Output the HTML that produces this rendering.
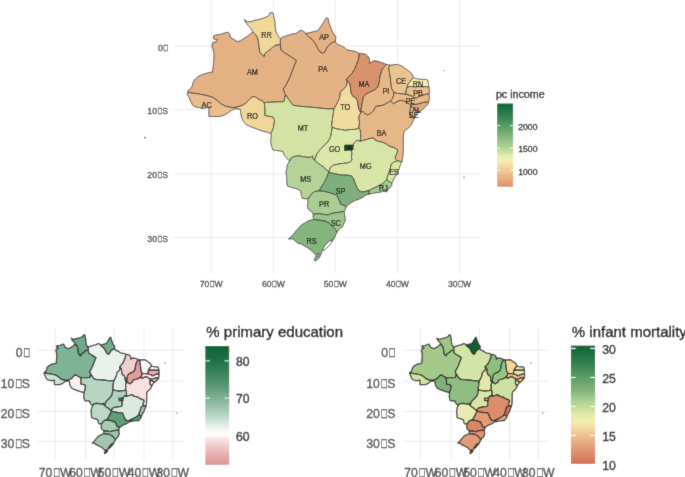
<!DOCTYPE html>
<html><head><meta charset="utf-8"><title>Brazil maps</title>
<style>html,body{margin:0;padding:0;background:#fff;width:685px;height:477px;overflow:hidden}svg{display:block}</style>
</head><body>
<svg width="685" height="477" viewBox="0 0 685 477">
<defs><filter id="soft" x="0" y="0" width="1" height="1"><feConvolveMatrix order="3" kernelMatrix="0.0114 0.084 0.0114 0.084 0.618 0.084 0.0114 0.084 0.0114" edgeMode="duplicate" preserveAlpha="true"/></filter></defs>
<g filter="url(#soft)">
<rect x="-10" y="-10" width="705" height="497" fill="#fff"/>
<g stroke="#ebebeb" stroke-width="1.0"><line x1="173.3" y1="46.2" x2="480.5" y2="46.2"/><line x1="173.3" y1="109.8" x2="480.5" y2="109.8"/><line x1="173.3" y1="174" x2="480.5" y2="174"/><line x1="173.3" y1="237.3" x2="480.5" y2="237.3"/><line x1="211.2" y1="0" x2="211.2" y2="273.4"/><line x1="273.4" y1="0" x2="273.4" y2="273.4"/><line x1="335.3" y1="0" x2="335.3" y2="273.4"/><line x1="397.4" y1="0" x2="397.4" y2="273.4"/><line x1="459.5" y1="0" x2="459.5" y2="273.4"/></g>
<g stroke="#333333" stroke-width="0.8" stroke-linejoin="round"><path d="M187.6 92.3L188.4 90.1L190.6 88.6L192 86.4L192.8 83.5L194 80.4L197.9 76.7L202.6 74.4L208.5 72.6L212.6 72L213.2 66.1L213.8 60.3L214.1 54.4L213.2 49.7L212 46.2L212.6 42.6L216.7 41.5L217.3 39.7L213.8 39.1L213.2 36.2L215.6 35L220.3 34.4L223.8 33.2L227.9 32.1L229.7 34.4L230.8 37.9L234.4 39.7L237.3 41.5L240.2 40.9L243.8 38.5L247.3 36.2L250.2 33.8L253.2 32.1L255.4 34.2L257.6 37.9L258.4 41.6L259.1 46.7L259.8 51.9L261.3 54.1L264.2 56.3L265 53.3L267.9 51.1L270.8 48.9L275.2 45.2L280.4 44.5L281.1 49.6L283.3 51.9L287 54.1L291.4 57L295.8 59.9L296.5 60.7L294.3 65.8L292.5 70.5L289.9 77.3L286.3 84.7L283.3 89.1L284.8 93.5L285.5 94.5L284.1 101.6L276.7 102L269.4 102.3L264.2 102.6L262 100.8L259 99.5L256.6 98L254.5 96.5L251.7 97.2L249.3 99.5L245.6 103.5L242 105.5L237.5 107L234 107.6L230.2 107.3L225.8 106.3L221.4 104.1L217 100.4L212.6 97.4L206.7 95.5L199.4 94.1L192 93L187.6 92.3Z" fill="#e4b184"/><path d="M253.2 32.1L250.3 27.6L247.3 24.7L244.1 19.5L247.3 21.7L251 21.7L254.7 20.3L259.1 19.5L263.5 18.1L268.6 15.9L270.1 12.6L273 12.9L273.8 16.6L275 21.7L275.2 26.2L276 32L277.9 35.7L280.4 38.6L280.4 44.5L275.2 45.2L270.8 48.9L267.9 51.1L265 53.3L264.2 56.3L261.3 54.1L259.8 51.9L259.1 46.7L258.4 41.6L257.6 37.9L255.4 34.2L253.2 32.1Z" fill="#f2d79b"/><path d="M305.3 33.5L309 32.8L313.4 31.7L317.8 30.6L320 27.6L323 23.2L325.2 19.5L326.9 17.3L328.1 18.8L328.8 22.5L330.3 26.2L331.8 30.6L334 34.2L335.9 36.8L335.4 41.2L331.8 43L328.8 45.2L326.6 48.2L324.4 52.6L322.2 53.3L320 51.9L317.8 48.9L314.9 43L312 39.4L309 37.2L305.3 33.5Z" fill="#e4b184"/><path d="M280.4 38.6L282.6 37.2L287 35.7L291.4 34.2L295.8 33.5L298.7 32L299.5 30.6L302.4 30.6L304.6 32L305.3 33.5L309 37.2L312 39.4L314.9 43L317.8 48.9L320 51.9L322.2 53.3L324.4 52.6L326.6 48.2L328.8 45.2L331.8 43L335.4 41.2L336.6 44L340.3 45.4L344.7 47.6L346.9 49.8L350.6 50.6L355 51.3L359.4 53.5L358.4 59.7L356.6 64.3L354.8 68.8L352 73.3L348.6 77L346.3 79.5L347.3 82L346.8 85L345.2 87.6L342.3 90L340.5 92.3L340 95.3L339.4 98.8L337.6 102.3L335.8 105.8L334 108.8L328.1 108.9L320.8 108.2L313.4 107.4L306.1 106.8L298.7 106.2L292.9 105.2L288.5 99.4L285.5 94.5L284.8 93.5L283.3 89.1L286.3 84.7L289.9 77.3L292.5 70.5L294.3 65.8L296.5 60.7L295.8 59.9L291.4 57L287 54.1L283.3 51.9L281.1 49.6L280.4 44.5L280.4 38.6Z" fill="#e4b385"/><path d="M235 108.6L233.5 109.5L230.9 110.7L228 112.9L224.3 115.1L219.9 116.5L214.1 116.5L208.9 116.5L208.9 111.4L208.9 107.3L206.7 107.7L202.3 108.5L199.4 107.7L195.7 107L192.8 105.5L190.6 101.1L189.1 97.4L187.3 94.5L187.6 92.3L192 93L199.4 94.1L206.7 95.5L212.6 97.4L217 100.4L221.4 104.1L225.8 106.3L230.2 107.3L234 107.6L235 108.6Z" fill="#e9bd8d"/><path d="M270.8 133.5L267.6 132.3L261.7 130.9L255.9 128.7L250.3 126.5L245.9 124.3L242.9 120.7L241.5 117L240.7 112.6L240.5 109.5L235 108.6L234 107.6L237.5 107L242 105.5L245.6 103.5L249.3 99.5L251.7 97.2L254.5 96.5L256.6 98L259 99.5L262 100.8L264.2 102.6L265 108.2L265 115.5L269.4 116.3L273 117L274.5 119.9L274 124.3L273.3 128.3L271.8 131.8L270.8 133.5Z" fill="#f0d699"/><path d="M285.5 94.5L284.1 101.6L276.7 102L269.4 102.3L264.2 102.6L265 108.2L265 115.5L269.4 116.3L273 117L274.5 119.9L274 124.3L273.3 128.3L271.8 131.8L270.8 133.5L271.3 136.7L270.6 141.2L271.3 145.6L272.8 150L277.9 150.7L283 151.4L283.8 154.4L285.2 156.6L288.2 159.5L289.6 161L291.1 158L294.1 156.6L298.5 155.8L302.9 156.6L307.3 157.3L310.9 157.3L312.4 155.8L313.1 158.8L314.6 160.2L316.1 155.8L317.5 152.9L320.5 149.2L324.2 145.6L327.8 141.9L330 138.2L330.9 135.5L331.6 131.1L332.3 127.4L331.6 126L332.3 120.8L333.1 115L334 108.8L328.1 108.9L320.8 108.2L313.4 107.4L306.1 106.8L298.7 106.2L292.9 105.2L288.5 99.4L285.5 94.5Z" fill="#d4e3a3"/><path d="M346.3 79.5L348.5 81.5L349.9 83.5L350.5 88.2L351.1 92.9L352.9 96.4L355.8 97.6L357.6 101.1L358.2 105.8L358.8 109.4L361 112.8L359.5 115L358.8 117.9L359.5 122.3L358.8 128.2L357.3 128.9L354.4 129.4L350 129.6L345.6 130.4L341.2 129.6L336.7 128.9L332.3 127.4L331.6 126L332.3 120.8L333.1 115L334 108.8L335.8 105.8L337.6 102.3L339.4 98.8L340 95.3L340.5 92.3L342.3 90L345.2 87.6L346.8 85L347.3 82L346.3 79.5Z" fill="#f1dc9f"/><path d="M359.4 53.5L361.6 53.5L365.2 54.2L368.2 56.4L369.6 59.4L369.6 63.8L371.9 61.6L374.1 60.8L377 61.1L380.7 62.3L384.3 63.5L386.5 64.5L384.3 66.7L382.1 69.6L380.7 74.1L379.9 77L379.3 82L378 87L374.5 90L370 92L365.2 94.5L363.2 97.6L362.2 103.5L361.1 109.4L361 112.8L358.8 109.4L358.2 105.8L357.6 101.1L355.8 97.6L352.9 96.4L351.1 92.9L350.5 88.2L349.9 83.5L348.5 81.5L346.3 79.5L348.6 77L352 73.3L354.8 68.8L356.6 64.3L358.4 59.7L359.4 53.5Z" fill="#d9926e"/><path d="M386.5 64.5L388.7 64.8L390.2 65.2L388.7 68.2L389.5 72.6L390.2 77L390.9 82.9L391.7 88.7L394.1 92.3L393.5 96L392.5 98.5L390.5 101L387 103L383.6 105L380 105.8L376.5 106.4L375 107.5L374 110.5L371.8 112.3L369.6 114L367.3 115L364.6 113.5L362.4 111L361 112.8L361.1 109.4L362.2 103.5L363.2 97.6L365.2 94.5L370 92L374.5 90L378 87L379.3 82L379.9 77L380.7 74.1L382.1 69.6L384.3 66.7L386.5 64.5Z" fill="#e6b888"/><path d="M390.2 65.2L393.1 64.8L397.5 64.5L402 66L404.9 68.2L408.2 70.5L411.7 73.5L413.5 77.6L410.5 81.2L408.2 84.1L407.2 86.9L406.3 90.2L405.9 92.8L406.3 94.4L402.3 94.1L400 93.5L397.6 93.5L395.3 92.9L394.1 92.3L391.7 88.7L390.9 82.9L390.2 77L389.5 72.6L388.7 68.2L390.2 65.2Z" fill="#ebc391"/><path d="M413.5 77.6L415.2 78.2L417.7 78.9L421.9 79.4L426 79.4L427.7 80.2L428.6 84.4L429 87.7L425.8 86.5L422.3 87L418.8 86.5L415.2 87L411.7 86.5L407.2 86.9L408.2 84.1L410.5 81.2L413.5 77.6Z" fill="#f4eeb1"/><path d="M429 87.7L429.4 90.2L429.4 92.8L429 94L426.9 94L424.4 94.9L421.9 95.7L419.3 96.5L416.8 97.8L415.1 98.2L413.9 97.4L412.6 96.5L411 95.7L409.3 95.3L406.3 94.4L405.9 92.8L406.3 90.2L407.2 86.9L411.7 86.5L415.2 87L418.8 86.5L422.3 87L425.8 86.5L429 87.7Z" fill="#ebc18f"/><path d="M429 94L429.4 97.8L429 100.3L428.6 102.4L427.3 102L423.5 102.4L419.3 103.7L416 104.5L412.6 104.9L410.5 104.9L409.3 104.1L406.8 102.8L404.2 101.1L401.7 100.3L399.2 100.7L396.7 102L393.4 103.7L390.5 101L392.5 98.5L393.5 96L394.1 92.3L395.3 92.9L397.6 93.5L400 93.5L402.3 94.1L406.3 94.4L409.3 95.3L411 95.7L412.6 96.5L413.9 97.4L415.1 98.2L416.8 97.8L419.3 96.5L421.9 95.7L424.4 94.9L426.9 94L429 94Z" fill="#e9bb8a"/><path d="M428.6 102.4L427.7 104.5L425.2 107L422.7 109.5L421 111.2L419.3 112L416.8 110.4L414.3 108.7L412.2 107.4L410.5 106.2L410.5 104.9L412.6 104.9L416 104.5L419.3 103.7L423.5 102.4L427.3 102L428.6 102.4Z" fill="#e3aa7f"/><path d="M419.3 112L417.7 113.4L416 115.9L414.5 118.2L412.5 118L410.5 116L409.7 112.9L410.1 109.5L410.5 106.2L412.2 107.4L414.3 108.7L416.8 110.4L419.3 112Z" fill="#ebbf8d"/><path d="M414.5 118.2L413.5 120.1L412.6 122.6L411 125.1L408.9 127.7L406.8 129.3L405.1 130.6L403.8 132.5L403.3 138.2L403.3 145L403.3 150.6L402.8 156.7L401.8 161.9L399.7 161.3L397.2 160.8L395.6 159.3L395.1 156.7L396.7 153.6L397.7 150L394.6 148L391.5 146.9L388.4 145.9L386.4 143.9L382.3 142.3L378.2 141.3L375.1 140.3L374.1 138.2L371 138.2L367.9 139.2L363.8 140.3L360.2 141.3L360.7 136.2L360.2 130L358.8 128.2L359.5 122.3L358.8 117.9L359.5 115L361 112.8L362.4 111L364.6 113.5L367.3 115L369.6 114L371.8 112.3L374 110.5L375 107.5L376.5 106.4L380 105.8L383.6 105L387 103L390.5 101L393.4 103.7L396.7 102L399.2 100.7L401.7 100.3L404.2 101.1L406.8 102.8L409.3 104.1L410.5 104.9L410.5 106.2L410.1 109.5L409.7 112.9L410.5 116L412.5 118L414.5 118.2Z" fill="#e6b787"/><path d="M358.8 128.2L357.3 128.9L354.4 129.4L350 129.6L345.6 130.4L341.2 129.6L336.7 128.9L332.3 127.4L331.6 131.1L330.9 135.5L330 138.2L327.8 141.9L324.2 145.6L320.5 149.2L317.5 152.9L316.1 155.8L314.6 160.2L319 163.9L323.4 166.9L328.7 172L329.4 170L330.9 167L333.8 164.8L335 164.9L339.1 163.9L343.2 163.4L347.3 162.9L350.4 161.9L352 159.8L351.4 156.7L352 153.6L351.4 150.6L352.5 149L353 146.4L353.5 143.9L355 142.3L356.6 140.3L360.2 141.3L360.7 136.2L360.2 130L358.8 128.2Z" fill="#dce7aa"/><path d="M360.2 141.3L363.8 140.3L367.9 139.2L371 138.2L374.1 138.2L375.1 140.3L378.2 141.3L382.3 142.3L386.4 143.9L388.4 145.9L391.5 146.9L394.6 148L397.7 150L396.7 153.6L395.1 156.7L395.6 159.3L397.2 160.8L394.6 161.9L392.6 162.9L391 164.9L390.5 168L389.5 171.1L387.9 175.2L386.9 178.3L386.7 179.5L385.2 181L382.3 183.9L377.9 186.1L373.5 188.3L369.1 190.5L366.1 191.3L361.7 192L358.8 190.5L356.6 186.9L355.1 183.2L353.6 178.8L351.4 175.8L347 175.1L342.6 175.1L338.2 174.4L333.8 173.6L328.7 172L329.4 170L330.9 167L333.8 164.8L335 164.9L339.1 163.9L343.2 163.4L347.3 162.9L350.4 161.9L352 159.8L351.4 156.7L352 153.6L351.4 150.6L352.5 149L353 146.4L353.5 143.9L355 142.3L356.6 140.3L360.2 141.3Z" fill="#d9e5a6"/><path d="M397.2 160.8L399.7 161.3L401.8 161.9L400.5 164.5L399.2 168.5L397.7 172.9L395.5 175.8L393.3 180.2L391.8 183.2L389.6 181.7L386.7 179.5L386.9 178.3L387.9 175.2L389.5 171.1L390.5 168L391 164.9L392.6 162.9L394.6 161.9L397.2 160.8Z" fill="#d9e6a6"/><path d="M386.7 179.5L389.6 181.7L391.8 183.2L391.8 185.4L390.3 187.6L388.1 189.1L386.7 192L383.7 191.3L380.8 192L376.4 192.7L372 193.5L369.1 194.2L369.1 190.5L373.5 188.3L377.9 186.1L382.3 183.9L385.2 181L386.7 179.5Z" fill="#a5cb8f"/><path d="M328.7 172L333.8 173.6L338.2 174.4L342.6 175.1L347 175.1L351.4 175.8L353.6 178.8L355.1 183.2L356.6 186.9L358.8 190.5L361.7 192L366.1 191.3L369.1 190.5L369.1 194.2L366.1 194.9L363.2 197.1L358.8 199.3L354.4 200.8L350.7 203L347.8 205.2L346.2 206.8L344 205.6L340.3 204.1L339.6 201.2L338.1 198.2L336.7 195.3L330.8 193.1L324.9 191.6L319 190.9L320.5 188.1L323.4 183.7L326.4 177.9L328.7 172Z" fill="#7eaf7c"/><path d="M314.6 160.2L319 163.9L323.4 166.9L328.7 172L326.4 177.9L323.4 183.7L320.5 188.1L319 190.9L314.6 191.6L311.7 193.8L308.8 198.2L307.5 198.5L304.4 198.9L302.2 198.2L301.4 195.3L300.7 191L297 188.9L291.5 187.5L287.4 186L286.7 180.8L286.7 176.4L286 172L286.7 169.1L287.4 164.6L289.6 161L291.1 158L294.1 156.6L298.5 155.8L302.9 156.6L307.3 157.3L310.9 157.3L312.4 155.8L313.1 158.8L314.6 160.2Z" fill="#b5d297"/><path d="M319 190.9L324.9 191.6L330.8 193.1L336.7 195.3L338.1 198.2L339.6 201.2L340.3 204.1L344 205.6L346.2 206.8L345.5 209L344.3 211.4L339.6 212.2L335.2 212.9L330.8 213.6L327.9 215.1L323.5 214.4L319.1 213.6L313.2 214.4L312.4 212.2L308.8 210L307.3 207L308 202.6L307.5 198.5L308.8 198.2L311.7 193.8L314.6 191.6L319 190.9Z" fill="#aacd93"/><path d="M313.2 214.4L319.1 213.6L323.5 214.4L327.9 215.1L330.8 213.6L335.2 212.9L339.6 212.2L344.3 211.4L344.7 215.8L345.5 220.2L344 223.2L342.5 226.9L339.6 229.1L337.2 232L335.2 229.1L332.3 226.1L329.3 223.2L324.9 221L319.1 220.2L313.9 219.5L312.9 217.3L313.2 214.4Z" fill="#9cc58c"/><path d="M313.9 219.5L319.1 220.2L324.9 221L329.3 223.2L332.3 226.1L335.2 229.1L337.2 232L335.7 234.7L334.3 238.2L332.6 240.9L329.9 242.5L327.3 246.1L324.6 248.8L322 251.4L320.7 255L319.4 257.6L317.6 259.4L315.4 261.1L314.1 260.2L315 258L316.3 255.8L314.1 253.2L311.4 250.6L307.9 247.9L304.4 246.1L301.3 243.9L298.2 243.5L294.7 240.4L292 238.7L288.5 239.1L291.2 236.5L293.8 233.8L296.5 230.3L299.1 227.6L301.3 225L304.4 223.2L308 221L310.2 220.2L313.9 219.5Z" fill="#85b47f"/><path d="M345 145L353 145L353 150L345 150Z" fill="#0b5a30"/><path d="M322.3 249.6L325.3 245.2L328.8 241.6L331.9 239.7L331.6 242.4L328.2 246.6L324.4 250.1Z" fill="#ffffff"/><path d="M316.4 255.6L318.3 252.9L318.9 254.2L317.9 256.5Z" fill="#ffffff"/></g>
<g font-family="Liberation Sans, Arial, sans-serif" font-size="7.8" text-anchor="middle" fill="#151515" stroke="#151515" stroke-width="0.22"><text transform="translate(266.5 38.3) scale(0.93 1.08)">RR</text><text transform="translate(324.1 39.5) scale(0.93 1.08)">AP</text><text transform="translate(252.4 74.7) scale(0.93 1.08)">AM</text><text transform="translate(322.9 72.4) scale(0.93 1.08)">PA</text><text transform="translate(364 86.5) scale(0.93 1.08)">MA</text><text transform="translate(401 84.1) scale(0.93 1.08)">CE</text><text transform="translate(418 87.1) scale(0.93 1.08)">RN</text><text transform="translate(418 95.9) scale(0.93 1.08)">PB</text><text transform="translate(385.9 94.1) scale(0.93 1.08)">PI</text><text transform="translate(410.3 103.5) scale(0.93 1.08)">PE</text><text transform="translate(416.5 112.7) scale(0.93 1.08)">AL</text><text transform="translate(413.7 118) scale(0.93 1.08)">SE</text><text transform="translate(206.6 108.2) scale(0.93 1.08)">AC</text><text transform="translate(345.2 110) scale(0.93 1.08)">TO</text><text transform="translate(252.4 119.4) scale(0.93 1.08)">RO</text><text transform="translate(302.9 131.3) scale(0.93 1.08)">MT</text><text transform="translate(381.6 135.8) scale(0.93 1.08)">BA</text><text transform="translate(334.6 152.2) scale(0.93 1.08)">GO</text><text transform="translate(348.7 151.1) scale(0.93 1.08)">DF</text><text transform="translate(365.7 168.5) scale(0.93 1.08)">MG</text><text transform="translate(394 175.1) scale(0.93 1.08)">ES</text><text transform="translate(305.7 181.8) scale(0.93 1.08)">MS</text><text transform="translate(340.6 194.3) scale(0.93 1.08)">SP</text><text transform="translate(383.4 191) scale(0.93 1.08)">RJ</text><text transform="translate(324.1 206.9) scale(0.93 1.08)">PR</text><text transform="translate(335.8 226.2) scale(0.93 1.08)">SC</text><text transform="translate(311.5 244.2) scale(0.93 1.08)">RS</text></g>
<g stroke="#4d4d4d" stroke-width="0.35"><text x="157.89" y="50.5" font-size="8.6" fill="#4d4d4d" font-family="Liberation Sans, Arial, sans-serif">0</text><text transform="translate(163.79 50.5) scale(0.72 1.17)" font-size="8.6" fill="#4d4d4d" font-family="Liberation Sans, Arial, sans-serif">□</text></g>
<g stroke="#4d4d4d" stroke-width="0.35"><text x="147.37" y="114.1" font-size="8.6" fill="#4d4d4d" font-family="Liberation Sans, Arial, sans-serif">10</text><text transform="translate(158.05 114.1) scale(0.72 1.17)" font-size="8.6" fill="#4d4d4d" font-family="Liberation Sans, Arial, sans-serif">□</text><text x="162.26" y="114.1" font-size="8.6" fill="#4d4d4d" font-family="Liberation Sans, Arial, sans-serif">S</text></g>
<g stroke="#4d4d4d" stroke-width="0.35"><text x="147.37" y="178.3" font-size="8.6" fill="#4d4d4d" font-family="Liberation Sans, Arial, sans-serif">20</text><text transform="translate(158.05 178.3) scale(0.72 1.17)" font-size="8.6" fill="#4d4d4d" font-family="Liberation Sans, Arial, sans-serif">□</text><text x="162.26" y="178.3" font-size="8.6" fill="#4d4d4d" font-family="Liberation Sans, Arial, sans-serif">S</text></g>
<g stroke="#4d4d4d" stroke-width="0.35"><text x="147.37" y="241.6" font-size="8.6" fill="#4d4d4d" font-family="Liberation Sans, Arial, sans-serif">30</text><text transform="translate(158.05 241.6) scale(0.72 1.17)" font-size="8.6" fill="#4d4d4d" font-family="Liberation Sans, Arial, sans-serif">□</text><text x="162.26" y="241.6" font-size="8.6" fill="#4d4d4d" font-family="Liberation Sans, Arial, sans-serif">S</text></g>
<g stroke="#4d4d4d" stroke-width="0.35"><text x="199.69" y="286.8" font-size="8.6" fill="#4d4d4d" font-family="Liberation Sans, Arial, sans-serif">70</text><text transform="translate(210.37 286.8) scale(0.72 1.17)" font-size="8.6" fill="#4d4d4d" font-family="Liberation Sans, Arial, sans-serif">□</text><text x="214.59" y="286.8" font-size="8.6" fill="#4d4d4d" font-family="Liberation Sans, Arial, sans-serif">W</text></g>
<g stroke="#4d4d4d" stroke-width="0.35"><text x="261.89" y="286.8" font-size="8.6" fill="#4d4d4d" font-family="Liberation Sans, Arial, sans-serif">60</text><text transform="translate(272.57 286.8) scale(0.72 1.17)" font-size="8.6" fill="#4d4d4d" font-family="Liberation Sans, Arial, sans-serif">□</text><text x="276.79" y="286.8" font-size="8.6" fill="#4d4d4d" font-family="Liberation Sans, Arial, sans-serif">W</text></g>
<g stroke="#4d4d4d" stroke-width="0.35"><text x="323.79" y="286.8" font-size="8.6" fill="#4d4d4d" font-family="Liberation Sans, Arial, sans-serif">50</text><text transform="translate(334.47 286.8) scale(0.72 1.17)" font-size="8.6" fill="#4d4d4d" font-family="Liberation Sans, Arial, sans-serif">□</text><text x="338.69" y="286.8" font-size="8.6" fill="#4d4d4d" font-family="Liberation Sans, Arial, sans-serif">W</text></g>
<g stroke="#4d4d4d" stroke-width="0.35"><text x="385.89" y="286.8" font-size="8.6" fill="#4d4d4d" font-family="Liberation Sans, Arial, sans-serif">40</text><text transform="translate(396.57 286.8) scale(0.72 1.17)" font-size="8.6" fill="#4d4d4d" font-family="Liberation Sans, Arial, sans-serif">□</text><text x="400.79" y="286.8" font-size="8.6" fill="#4d4d4d" font-family="Liberation Sans, Arial, sans-serif">W</text></g>
<g stroke="#4d4d4d" stroke-width="0.35"><text x="447.99" y="286.8" font-size="8.6" fill="#4d4d4d" font-family="Liberation Sans, Arial, sans-serif">30</text><text transform="translate(458.67 286.8) scale(0.72 1.17)" font-size="8.6" fill="#4d4d4d" font-family="Liberation Sans, Arial, sans-serif">□</text><text x="462.89" y="286.8" font-size="8.6" fill="#4d4d4d" font-family="Liberation Sans, Arial, sans-serif">W</text></g>
<text x="495.9" y="98.3" font-size="10.7" fill="#111" stroke="#111" stroke-width="0.3" font-family="Liberation Sans, Arial, sans-serif">pc income</text>
<defs><linearGradient id="g1" x1="0" y1="0" x2="0" y2="1"><stop offset="0" stop-color="#0a6535"/><stop offset="0.265" stop-color="#559b64"/><stop offset="0.4" stop-color="#85b87b"/><stop offset="0.535" stop-color="#b1d594"/><stop offset="0.618" stop-color="#dcebab"/><stop offset="0.678" stop-color="#f2f1b4"/><stop offset="0.738" stop-color="#f5dea2"/><stop offset="0.803" stop-color="#f1cb95"/><stop offset="0.9" stop-color="#e9ad80"/><stop offset="1" stop-color="#df9068"/></linearGradient><linearGradient id="g2" x1="0" y1="0" x2="0" y2="1"><stop offset="0" stop-color="#0a6535"/><stop offset="0.13" stop-color="#1f7346"/><stop offset="0.3" stop-color="#4f8f6a"/><stop offset="0.44" stop-color="#7fb194"/><stop offset="0.58" stop-color="#b6d4c4"/><stop offset="0.69" stop-color="#eef4f1"/><stop offset="0.745" stop-color="#ffffff"/><stop offset="0.79" stop-color="#f6e2e2"/><stop offset="0.875" stop-color="#ecbcbc"/><stop offset="1" stop-color="#db9494"/></linearGradient><linearGradient id="g3" x1="0" y1="0" x2="0" y2="1"><stop offset="0" stop-color="#0a6535"/><stop offset="0.125" stop-color="#2a7b47"/><stop offset="0.265" stop-color="#5d9a66"/><stop offset="0.39" stop-color="#87b67c"/><stop offset="0.46" stop-color="#a9cf8f"/><stop offset="0.515" stop-color="#c0da9c"/><stop offset="0.585" stop-color="#e3eba9"/><stop offset="0.645" stop-color="#f3eeb0"/><stop offset="0.71" stop-color="#f2d59d"/><stop offset="0.76" stop-color="#ecc18f"/><stop offset="0.83" stop-color="#e5a780"/><stop offset="0.917" stop-color="#dc8a6a"/><stop offset="1" stop-color="#d37058"/></linearGradient></defs>
<rect x="497.1" y="103.5" width="16" height="83.3" fill="url(#g1)"/>
<line x1="497.1" y1="125.6" x2="500.3" y2="125.6" stroke="#fff" stroke-width="0.8"/>
<line x1="509.9" y1="125.6" x2="513.1" y2="125.6" stroke="#fff" stroke-width="0.8"/>
<text x="518.3" y="129.7" font-size="8.6" fill="#222" stroke="#222" stroke-width="0.3" font-family="Liberation Sans, Arial, sans-serif">2000</text>
<line x1="497.1" y1="148.1" x2="500.3" y2="148.1" stroke="#fff" stroke-width="0.8"/>
<line x1="509.9" y1="148.1" x2="513.1" y2="148.1" stroke="#fff" stroke-width="0.8"/>
<text x="518.3" y="152.2" font-size="8.6" fill="#222" stroke="#222" stroke-width="0.3" font-family="Liberation Sans, Arial, sans-serif">1500</text>
<line x1="497.1" y1="170.4" x2="500.3" y2="170.4" stroke="#fff" stroke-width="0.8"/>
<line x1="509.9" y1="170.4" x2="513.1" y2="170.4" stroke="#fff" stroke-width="0.8"/>
<text x="518.3" y="174.5" font-size="8.6" fill="#222" stroke="#222" stroke-width="0.3" font-family="Liberation Sans, Arial, sans-serif">1000</text>
<g stroke="#ebebeb" stroke-width="1.0"><line x1="37.4" y1="350.3" x2="183.4" y2="350.3"/><line x1="37.4" y1="381.1" x2="183.4" y2="381.1"/><line x1="37.4" y1="411.5" x2="183.4" y2="411.5"/><line x1="37.4" y1="441.4" x2="183.4" y2="441.4"/><line x1="55.1" y1="328" x2="55.1" y2="459.4"/><line x1="85.5" y1="328" x2="85.5" y2="459.4"/><line x1="114" y1="328" x2="114" y2="459.4"/><line x1="144" y1="328" x2="144" y2="459.4"/><line x1="172.8" y1="328" x2="172.8" y2="459.4"/></g>
<g stroke="#333333" stroke-width="1.25" stroke-linejoin="round"><path d="M44.29 372.98L44.67 371.93L45.72 371.21L46.38 370.16L46.76 368.77L47.33 367.29L49.19 365.52L51.42 364.42L54.22 363.56L56.16 363.28L56.45 360.46L56.73 357.69L56.88 354.87L56.45 352.62L55.88 350.95L56.16 349.23L58.11 348.7L58.4 347.84L56.73 347.56L56.45 346.17L57.59 345.6L59.82 345.31L61.48 344.74L63.43 344.21L64.28 345.31L64.81 346.98L66.52 347.84L67.89 348.7L69.27 348.42L70.98 347.27L72.64 346.17L74.02 345.03L75.44 344.21L76.49 345.22L77.53 346.98L77.91 348.75L78.24 351.19L78.58 353.67L79.29 354.72L80.66 355.78L81.04 354.34L82.42 353.29L83.8 352.24L85.89 350.47L88.36 350.14L88.69 352.57L89.73 353.67L91.49 354.72L93.58 356.11L95.67 357.5L96 357.88L94.96 360.31L94.1 362.56L92.87 365.81L91.16 369.35L89.73 371.45L90.45 373.55L90.78 374.03L90.11 377.42L86.6 377.61L83.13 377.75L80.66 377.9L79.62 377.04L78.2 376.42L77.06 375.7L76.06 374.98L74.73 375.32L73.59 376.42L71.83 378.33L70.12 379.28L67.99 380L66.33 380.29L64.52 380.14L62.43 379.67L60.34 378.61L58.25 376.85L56.16 375.41L53.36 374.51L49.9 373.84L46.38 373.31L44.29 372.98Z" fill="#7fb395"/><path d="M75.44 344.21L74.06 342.06L72.64 340.68L71.12 338.19L72.64 339.24L74.4 339.24L76.15 338.57L78.24 338.19L80.33 337.52L82.75 336.47L83.47 334.9L84.84 335.04L85.22 336.81L85.79 339.24L85.89 341.39L86.27 344.17L87.17 345.93L88.36 347.32L88.36 350.14L85.89 350.47L83.8 352.24L82.42 353.29L81.04 354.34L80.66 355.78L79.29 354.72L78.58 353.67L78.24 351.19L77.91 348.75L77.53 346.98L76.49 345.22L75.44 344.21Z" fill="#6fa987"/><path d="M100.18 344.88L101.94 344.55L104.02 344.02L106.11 343.5L107.16 342.06L108.58 339.96L109.63 338.19L110.43 337.14L111 337.86L111.34 339.63L112.05 341.39L112.76 343.5L113.81 345.22L114.71 346.46L114.47 348.56L112.76 349.42L111.34 350.47L110.29 351.91L109.25 354.01L108.2 354.34L107.16 353.67L106.11 352.24L104.74 349.42L103.36 347.7L101.94 346.65L100.18 344.88Z" fill="#72ab89"/><path d="M88.36 347.32L89.4 346.65L91.49 345.93L93.58 345.22L95.67 344.88L97.05 344.17L97.42 343.5L98.8 343.5L99.85 344.17L100.18 344.88L101.94 346.65L103.36 347.7L104.74 349.42L106.11 352.24L107.16 353.67L108.2 354.34L109.25 354.01L110.29 351.91L111.34 350.47L112.76 349.42L114.47 348.56L115.04 349.9L116.8 350.57L118.89 351.62L119.93 352.67L121.69 353.05L123.78 353.39L125.87 354.44L125.39 357.4L124.54 359.6L123.68 361.75L122.35 363.9L120.74 365.67L119.65 366.86L120.12 368.06L119.88 369.49L119.12 370.73L117.75 371.88L116.89 372.98L116.65 374.41L116.37 376.08L115.51 377.75L114.66 379.43L113.81 380.86L111 380.91L107.54 380.57L104.02 380.19L100.56 379.9L97.05 379.62L94.29 379.14L92.2 376.37L90.78 374.03L90.45 373.55L89.73 371.45L91.16 369.35L92.87 365.81L94.1 362.56L94.96 360.31L96 357.88L95.67 357.5L93.58 356.11L91.49 354.72L89.73 353.67L88.69 352.57L88.36 350.14L88.36 347.32Z" fill="#e8f1eb"/><path d="M66.8 380.76L66.09 381.19L64.85 381.77L63.48 382.82L61.72 383.87L59.63 384.54L56.88 384.54L54.41 384.54L54.41 382.1L54.41 380.14L53.36 380.33L51.27 380.72L49.9 380.33L48.14 380L46.76 379.28L45.72 377.18L45.01 375.41L44.15 374.03L44.29 372.98L46.38 373.31L49.9 373.84L53.36 374.51L56.16 375.41L58.25 376.85L60.34 378.61L62.43 379.67L64.52 380.14L66.33 380.29L66.8 380.76Z" fill="#cfe3d6"/><path d="M83.8 392.66L82.28 392.09L79.48 391.42L76.72 390.37L74.06 389.32L71.98 388.27L70.55 386.55L69.89 384.78L69.51 382.68L69.41 381.19L66.8 380.76L66.33 380.29L67.99 380L70.12 379.28L71.83 378.33L73.59 376.42L74.73 375.32L76.06 374.98L77.06 375.7L78.2 376.42L79.62 377.04L80.66 377.9L81.04 380.57L81.04 384.06L83.13 384.44L84.84 384.78L85.55 386.16L85.32 388.27L84.99 390.18L84.27 391.85L83.8 392.66Z" fill="#f8efef"/><path d="M90.78 374.03L90.11 377.42L86.6 377.61L83.13 377.75L80.66 377.9L81.04 380.57L81.04 384.06L83.13 384.44L84.84 384.78L85.55 386.16L85.32 388.27L84.99 390.18L84.27 391.85L83.8 392.66L84.04 394.19L83.7 396.34L84.04 398.44L84.75 400.55L87.17 400.88L89.59 401.21L89.97 402.65L90.64 403.7L92.06 405.08L92.72 405.8L93.44 404.37L94.86 403.7L96.95 403.32L99.04 403.7L101.13 404.03L102.84 404.03L103.55 403.32L103.88 404.75L104.59 405.42L105.31 403.32L105.97 401.93L107.4 400.16L109.15 398.44L110.86 396.68L111.91 394.91L112.33 393.62L112.67 391.52L113 389.75L112.67 389.08L113 386.59L113.38 383.82L113.81 380.86L111 380.91L107.54 380.57L104.02 380.19L100.56 379.9L97.05 379.62L94.29 379.14L92.2 376.37L90.78 374.03Z" fill="#b7d5c2"/><path d="M119.65 366.86L120.69 367.82L121.35 368.77L121.64 371.02L121.92 373.26L122.78 374.94L124.16 375.51L125.01 377.18L125.3 379.43L125.58 381.15L126.63 382.77L125.91 383.82L125.58 385.21L125.91 387.31L125.58 390.13L124.87 390.46L123.49 390.7L121.4 390.8L119.31 391.18L117.22 390.8L115.09 390.46L113 389.75L112.67 389.08L113 386.59L113.38 383.82L113.81 380.86L114.66 379.43L115.51 377.75L116.37 376.08L116.65 374.41L116.89 372.98L117.75 371.88L119.12 370.73L119.88 369.49L120.12 368.06L119.65 366.86Z" fill="#e3eee7"/><path d="M125.87 354.44L126.91 354.44L128.62 354.77L130.04 355.82L130.71 357.26L130.71 359.36L131.8 358.31L132.84 357.93L134.22 358.07L135.98 358.64L137.69 359.22L138.73 359.69L137.69 360.74L136.64 362.13L135.98 364.28L135.6 365.67L135.31 368.06L134.7 370.44L133.03 371.88L130.9 372.83L128.62 374.03L127.67 375.51L127.19 378.33L126.67 381.15L126.63 382.77L125.58 381.15L125.3 379.43L125.01 377.18L124.16 375.51L122.78 374.94L121.92 373.26L121.64 371.02L121.35 368.77L120.69 367.82L119.65 366.86L120.74 365.67L122.35 363.9L123.68 361.75L124.54 359.6L125.39 357.4L125.87 354.44Z" fill="#f2cfcf"/><path d="M138.73 359.69L139.78 359.84L140.49 360.03L139.78 361.46L140.16 363.56L140.49 365.67L140.82 368.49L141.2 371.26L142.34 372.98L142.06 374.74L141.58 375.94L140.63 377.13L138.97 378.09L137.36 379.04L135.65 379.43L133.98 379.71L133.27 380.24L132.8 381.67L131.75 382.53L130.71 383.34L129.62 383.82L128.33 383.11L127.29 381.91L126.63 382.77L126.67 381.15L127.19 378.33L127.67 375.51L128.62 374.03L130.9 372.83L133.03 371.88L134.7 370.44L135.31 368.06L135.6 365.67L135.98 364.28L136.64 362.13L137.69 360.74L138.73 359.69Z" fill="#e39c9c"/><path d="M140.49 360.03L141.87 359.84L143.96 359.69L146.09 360.41L147.47 361.46L149.04 362.56L150.7 363.99L151.55 365.95L150.13 367.67L149.04 369.06L148.56 370.4L148.13 371.97L147.94 373.22L148.13 373.98L146.23 373.84L145.14 373.55L144 373.55L142.91 373.26L142.34 372.98L141.2 371.26L140.82 368.49L140.49 365.67L140.16 363.56L139.78 361.46L140.49 360.03Z" fill="#f8f8f8"/><path d="M151.55 365.95L152.36 366.24L153.55 366.57L155.54 366.81L157.49 366.81L158.29 367.2L158.72 369.2L158.91 370.78L157.39 370.21L155.73 370.44L154.07 370.21L152.36 370.44L150.7 370.21L148.56 370.4L149.04 369.06L150.13 367.67L151.55 365.95Z" fill="#f7f5f5"/><path d="M158.91 370.78L159.1 371.97L159.1 373.22L158.91 373.79L157.91 373.79L156.73 374.22L155.54 374.6L154.31 374.98L153.12 375.6L152.31 375.8L151.74 375.41L151.12 374.98L150.37 374.6L149.56 374.41L148.13 373.98L147.94 373.22L148.13 371.97L148.56 370.4L150.7 370.21L152.36 370.44L154.07 370.21L155.73 370.44L157.39 370.21L158.91 370.78Z" fill="#e9aaaa"/><path d="M158.91 373.79L159.1 375.6L158.91 376.8L158.72 377.8L158.1 377.61L156.3 377.8L154.31 378.42L152.74 378.81L151.12 379L150.13 379L149.56 378.61L148.37 377.99L147.14 377.18L145.95 376.8L144.76 376.99L143.58 377.61L142.01 378.42L140.63 377.13L141.58 375.94L142.06 374.74L142.34 372.98L142.91 373.26L144 373.55L145.14 373.55L146.23 373.84L148.13 373.98L149.56 374.41L150.37 374.6L151.12 374.98L151.74 375.41L152.31 375.8L153.12 375.6L154.31 374.98L155.54 374.6L156.73 374.22L157.91 373.79L158.91 373.79Z" fill="#f5ecec"/><path d="M158.72 377.8L158.29 378.81L157.11 380L155.92 381.19L155.11 382.01L154.31 382.39L153.12 381.62L151.93 380.81L150.93 380.19L150.13 379.62L150.13 379L151.12 379L152.74 378.81L154.31 378.42L156.3 377.8L158.1 377.61L158.72 377.8Z" fill="#eab0b0"/><path d="M154.31 382.39L153.55 383.06L152.74 384.25L152.03 385.35L151.08 385.26L150.13 384.3L149.75 382.82L149.94 381.19L150.13 379.62L150.93 380.19L151.93 380.81L153.12 381.62L154.31 382.39Z" fill="#f5e8e8"/><path d="M152.03 385.35L151.55 386.26L151.12 387.45L150.37 388.65L149.37 389.89L148.37 390.66L147.56 391.28L146.95 392.18L146.71 394.91L146.71 398.16L146.71 400.83L146.47 403.75L146 406.23L145 405.94L143.81 405.71L143.05 404.99L142.82 403.75L143.58 402.27L144.05 400.55L142.58 399.59L141.11 399.06L139.63 398.59L138.68 397.63L136.74 396.87L134.79 396.39L133.32 395.91L132.84 394.91L131.37 394.91L129.9 395.39L127.95 395.91L126.25 396.39L126.48 393.95L126.25 390.99L125.58 390.13L125.91 387.31L125.58 385.21L125.91 383.82L126.63 382.77L127.29 381.91L128.33 383.11L129.62 383.82L130.71 383.34L131.75 382.53L132.8 381.67L133.27 380.24L133.98 379.71L135.65 379.43L137.36 379.04L138.97 378.09L140.63 377.13L142.01 378.42L143.58 377.61L144.76 376.99L145.95 376.8L147.14 377.18L148.37 377.99L149.56 378.61L150.13 379L150.13 379.62L149.94 381.19L149.75 382.82L150.13 384.3L151.08 385.26L152.03 385.35Z" fill="#f8e1e1"/><path d="M125.58 390.13L124.87 390.46L123.49 390.7L121.4 390.8L119.31 391.18L117.22 390.8L115.09 390.46L113 389.75L112.67 391.52L112.33 393.62L111.91 394.91L110.86 396.68L109.15 398.44L107.4 400.16L105.97 401.93L105.31 403.32L104.59 405.42L106.68 407.19L108.77 408.62L111.29 411.06L111.62 410.1L112.33 408.67L113.71 407.62L114.28 407.66L116.23 407.19L118.17 406.95L120.12 406.71L121.59 406.23L122.35 405.23L122.07 403.75L122.35 402.27L122.07 400.83L122.59 400.07L122.83 398.83L123.06 397.63L123.78 396.87L124.54 395.91L126.25 396.39L126.48 393.95L126.25 390.99L125.58 390.13Z" fill="#b2d2bf"/><path d="M126.25 396.39L127.95 395.91L129.9 395.39L131.37 394.91L132.84 394.91L133.32 395.91L134.79 396.39L136.74 396.87L138.68 397.63L139.63 398.59L141.11 399.06L142.58 399.59L144.05 400.55L143.58 402.27L142.82 403.75L143.05 404.99L143.81 405.71L142.58 406.23L141.63 406.71L140.87 407.66L140.63 409.15L140.16 410.63L139.4 412.59L138.92 414.07L138.83 414.64L138.12 415.36L136.74 416.74L134.65 417.79L132.56 418.85L130.47 419.9L129.05 420.28L126.96 420.61L125.58 419.9L124.54 418.18L123.82 416.41L123.11 414.31L122.07 412.87L119.98 412.54L117.89 412.54L115.8 412.2L113.71 411.82L111.29 411.06L111.62 410.1L112.33 408.67L113.71 407.62L114.28 407.66L116.23 407.19L118.17 406.95L120.12 406.71L121.59 406.23L122.35 405.23L122.07 403.75L122.35 402.27L122.07 400.83L122.59 400.07L122.83 398.83L123.06 397.63L123.78 396.87L124.54 395.91L126.25 396.39Z" fill="#dbe9e0"/><path d="M143.81 405.71L145 405.94L146 406.23L145.38 407.47L144.76 409.38L144.05 411.49L143.01 412.87L141.96 414.98L141.25 416.41L140.2 415.69L138.83 414.64L138.92 414.07L139.4 412.59L140.16 410.63L140.63 409.15L140.87 407.66L141.63 406.71L142.58 406.23L143.81 405.71Z" fill="#9fc7ae"/><path d="M138.83 414.64L140.2 415.69L141.25 416.41L141.25 417.46L140.54 418.51L139.49 419.23L138.83 420.61L137.4 420.28L136.03 420.61L133.94 420.95L131.85 421.33L130.47 421.66L130.47 419.9L132.56 418.85L134.65 417.79L136.74 416.74L138.12 415.36L138.83 414.64Z" fill="#5e9e77"/><path d="M111.29 411.06L113.71 411.82L115.8 412.2L117.89 412.54L119.98 412.54L122.07 412.87L123.11 414.31L123.82 416.41L124.54 418.18L125.58 419.9L126.96 420.61L129.05 420.28L130.47 419.9L130.47 421.66L129.05 422L127.67 423.05L125.58 424.1L123.49 424.82L121.73 425.87L120.36 426.92L119.6 427.68L118.55 427.11L116.8 426.39L116.46 425.01L115.75 423.58L115.09 422.19L112.29 421.14L109.48 420.42L106.68 420.09L107.4 418.75L108.77 416.65L110.2 413.88L111.29 411.06Z" fill="#5f9f78"/><path d="M104.59 405.42L106.68 407.19L108.77 408.62L111.29 411.06L110.2 413.88L108.77 416.65L107.4 418.75L106.68 420.09L104.59 420.42L103.22 421.47L101.84 423.58L101.22 423.72L99.75 423.91L98.71 423.58L98.33 422.19L97.99 420.14L96.24 419.13L93.63 418.46L91.68 417.75L91.35 415.26L91.35 413.16L91.02 411.06L91.35 409.67L91.68 407.52L92.72 405.8L93.44 404.37L94.86 403.7L96.95 403.32L99.04 403.7L101.13 404.03L102.84 404.03L103.55 403.32L103.88 404.75L104.59 405.42Z" fill="#bcd8c6"/><path d="M106.68 420.09L109.48 420.42L112.29 421.14L115.09 422.19L115.75 423.58L116.46 425.01L116.8 426.39L118.55 427.11L119.6 427.68L119.27 428.74L118.7 429.88L116.46 430.26L114.38 430.6L112.29 430.93L110.91 431.65L108.82 431.32L106.73 430.93L103.93 431.32L103.55 430.26L101.84 429.21L101.13 427.78L101.46 425.68L101.22 423.72L101.84 423.58L103.22 421.47L104.59 420.42L106.68 420.09Z" fill="#a6ccb4"/><path d="M103.93 431.32L106.73 430.93L108.82 431.32L110.91 431.65L112.29 430.93L114.38 430.6L116.46 430.26L118.7 429.88L118.89 431.98L119.27 434.09L118.55 435.52L117.84 437.29L116.46 438.34L115.32 439.73L114.38 438.34L113 436.91L111.57 435.52L109.48 434.47L106.73 434.09L104.26 433.75L103.79 432.7L103.93 431.32Z" fill="#9cc6ac"/><path d="M104.26 433.75L106.73 434.09L109.48 434.47L111.57 435.52L113 436.91L114.38 438.34L115.32 439.73L114.61 441.02L113.95 442.69L113.14 443.98L111.86 444.74L110.62 446.46L109.34 447.75L108.11 448.99L107.49 450.71L106.87 451.96L106.02 452.82L104.97 453.63L104.36 453.2L104.78 452.15L105.4 451.1L104.36 449.85L103.07 448.61L101.41 447.32L99.75 446.46L98.28 445.41L96.81 445.22L95.15 443.74L93.86 442.93L92.2 443.12L93.48 441.88L94.72 440.59L96 438.91L97.23 437.62L98.28 436.38L99.75 435.52L101.46 434.47L102.51 434.09L104.26 433.75Z" fill="#a0c6ae"/><path d="M119.03 398.16L122.83 398.16L122.83 400.55L119.03 400.55Z" fill="#2f7a4f"/><path d="M108.25 448.13L109.67 446.03L111.34 444.31L112.81 443.4L112.67 444.69L111.05 446.7L109.25 448.37Z" fill="#ffffff"/><path d="M105.45 451L106.35 449.71L106.64 450.33L106.16 451.43Z" fill="#ffffff"/></g>
<g stroke="#4d4d4d" stroke-width="0.35"><text x="15.65" y="356.7" font-size="12.2" fill="#4d4d4d" font-family="Liberation Sans, Arial, sans-serif">0</text><text transform="translate(24.02 356.7) scale(0.72 1.17)" font-size="12.2" fill="#4d4d4d" font-family="Liberation Sans, Arial, sans-serif">□</text></g>
<g stroke="#4d4d4d" stroke-width="0.35"><text x="0.73" y="387.5" font-size="12.2" fill="#4d4d4d" font-family="Liberation Sans, Arial, sans-serif">10</text><text transform="translate(15.88 387.5) scale(0.72 1.17)" font-size="12.2" fill="#4d4d4d" font-family="Liberation Sans, Arial, sans-serif">□</text><text x="21.86" y="387.5" font-size="12.2" fill="#4d4d4d" font-family="Liberation Sans, Arial, sans-serif">S</text></g>
<g stroke="#4d4d4d" stroke-width="0.35"><text x="0.73" y="417.9" font-size="12.2" fill="#4d4d4d" font-family="Liberation Sans, Arial, sans-serif">20</text><text transform="translate(15.88 417.9) scale(0.72 1.17)" font-size="12.2" fill="#4d4d4d" font-family="Liberation Sans, Arial, sans-serif">□</text><text x="21.86" y="417.9" font-size="12.2" fill="#4d4d4d" font-family="Liberation Sans, Arial, sans-serif">S</text></g>
<g stroke="#4d4d4d" stroke-width="0.35"><text x="0.73" y="447.8" font-size="12.2" fill="#4d4d4d" font-family="Liberation Sans, Arial, sans-serif">30</text><text transform="translate(15.88 447.8) scale(0.72 1.17)" font-size="12.2" fill="#4d4d4d" font-family="Liberation Sans, Arial, sans-serif">□</text><text x="21.86" y="447.8" font-size="12.2" fill="#4d4d4d" font-family="Liberation Sans, Arial, sans-serif">S</text></g>
<g stroke="#4d4d4d" stroke-width="0.35"><text x="38.78" y="476.6" font-size="12.2" fill="#4d4d4d" font-family="Liberation Sans, Arial, sans-serif">70</text><text transform="translate(53.93 476.6) scale(0.72 1.17)" font-size="12.2" fill="#4d4d4d" font-family="Liberation Sans, Arial, sans-serif">□</text><text x="59.91" y="476.6" font-size="12.2" fill="#4d4d4d" font-family="Liberation Sans, Arial, sans-serif">W</text></g>
<g stroke="#4d4d4d" stroke-width="0.35"><text x="69.18" y="476.6" font-size="12.2" fill="#4d4d4d" font-family="Liberation Sans, Arial, sans-serif">60</text><text transform="translate(84.33 476.6) scale(0.72 1.17)" font-size="12.2" fill="#4d4d4d" font-family="Liberation Sans, Arial, sans-serif">□</text><text x="90.31" y="476.6" font-size="12.2" fill="#4d4d4d" font-family="Liberation Sans, Arial, sans-serif">W</text></g>
<g stroke="#4d4d4d" stroke-width="0.35"><text x="97.68" y="476.6" font-size="12.2" fill="#4d4d4d" font-family="Liberation Sans, Arial, sans-serif">50</text><text transform="translate(112.83 476.6) scale(0.72 1.17)" font-size="12.2" fill="#4d4d4d" font-family="Liberation Sans, Arial, sans-serif">□</text><text x="118.81" y="476.6" font-size="12.2" fill="#4d4d4d" font-family="Liberation Sans, Arial, sans-serif">W</text></g>
<g stroke="#4d4d4d" stroke-width="0.35"><text x="127.68" y="476.6" font-size="12.2" fill="#4d4d4d" font-family="Liberation Sans, Arial, sans-serif">40</text><text transform="translate(142.83 476.6) scale(0.72 1.17)" font-size="12.2" fill="#4d4d4d" font-family="Liberation Sans, Arial, sans-serif">□</text><text x="148.81" y="476.6" font-size="12.2" fill="#4d4d4d" font-family="Liberation Sans, Arial, sans-serif">W</text></g>
<g stroke="#4d4d4d" stroke-width="0.35"><text x="156.48" y="476.6" font-size="12.2" fill="#4d4d4d" font-family="Liberation Sans, Arial, sans-serif">30</text><text transform="translate(171.63 476.6) scale(0.72 1.17)" font-size="12.2" fill="#4d4d4d" font-family="Liberation Sans, Arial, sans-serif">□</text><text x="177.61" y="476.6" font-size="12.2" fill="#4d4d4d" font-family="Liberation Sans, Arial, sans-serif">W</text></g>
<g stroke="#ebebeb" stroke-width="1.0"><line x1="402.9" y1="350.3" x2="548.9" y2="350.3"/><line x1="402.9" y1="381.1" x2="548.9" y2="381.1"/><line x1="402.9" y1="411.5" x2="548.9" y2="411.5"/><line x1="402.9" y1="441.4" x2="548.9" y2="441.4"/><line x1="420.6" y1="328" x2="420.6" y2="459.4"/><line x1="451" y1="328" x2="451" y2="459.4"/><line x1="479.5" y1="328" x2="479.5" y2="459.4"/><line x1="509.5" y1="328" x2="509.5" y2="459.4"/><line x1="538.3" y1="328" x2="538.3" y2="459.4"/></g>
<g stroke="#333333" stroke-width="1.25" stroke-linejoin="round"><path d="M409.79 372.98L410.17 371.93L411.22 371.21L411.88 370.16L412.26 368.77L412.83 367.29L414.69 365.52L416.92 364.42L419.72 363.56L421.66 363.28L421.95 360.46L422.23 357.69L422.38 354.87L421.95 352.62L421.38 350.95L421.66 349.23L423.61 348.7L423.9 347.84L422.23 347.56L421.95 346.17L423.09 345.6L425.32 345.31L426.98 344.74L428.93 344.21L429.78 345.31L430.31 346.98L432.02 347.84L433.39 348.7L434.77 348.42L436.48 347.27L438.14 346.17L439.52 345.03L440.94 344.21L441.99 345.22L443.03 346.98L443.41 348.75L443.74 351.19L444.08 353.67L444.79 354.72L446.16 355.78L446.54 354.34L447.92 353.29L449.3 352.24L451.39 350.47L453.86 350.14L454.19 352.57L455.23 353.67L456.99 354.72L459.08 356.11L461.17 357.5L461.5 357.88L460.46 360.31L459.6 362.56L458.37 365.81L456.66 369.35L455.23 371.45L455.95 373.55L456.28 374.03L455.61 377.42L452.1 377.61L448.63 377.75L446.16 377.9L445.12 377.04L443.7 376.42L442.56 375.7L441.56 374.98L440.23 375.32L439.09 376.42L437.33 378.33L435.62 379.28L433.49 380L431.83 380.29L430.02 380.14L427.93 379.67L425.84 378.61L423.75 376.85L421.66 375.41L418.86 374.51L415.4 373.84L411.88 373.31L409.79 372.98Z" fill="#a4c98a"/><path d="M440.94 344.21L439.56 342.06L438.14 340.68L436.62 338.19L438.14 339.24L439.9 339.24L441.65 338.57L443.74 338.19L445.83 337.52L448.25 336.47L448.97 334.9L450.34 335.04L450.72 336.81L451.29 339.24L451.39 341.39L451.77 344.17L452.67 345.93L453.86 347.32L453.86 350.14L451.39 350.47L449.3 352.24L447.92 353.29L446.54 354.34L446.16 355.78L444.79 354.72L444.08 353.67L443.74 351.19L443.41 348.75L443.03 346.98L441.99 345.22L440.94 344.21Z" fill="#9fc589"/><path d="M465.68 344.88L467.44 344.55L469.52 344.02L471.61 343.5L472.66 342.06L474.08 339.96L475.13 338.19L475.93 337.14L476.5 337.86L476.84 339.63L477.55 341.39L478.26 343.5L479.31 345.22L480.21 346.46L479.97 348.56L478.26 349.42L476.84 350.47L475.79 351.91L474.75 354.01L473.7 354.34L472.66 353.67L471.61 352.24L470.24 349.42L468.86 347.7L467.44 346.65L465.68 344.88Z" fill="#0b6133"/><path d="M453.86 347.32L454.9 346.65L456.99 345.93L459.08 345.22L461.17 344.88L462.55 344.17L462.92 343.5L464.3 343.5L465.35 344.17L465.68 344.88L467.44 346.65L468.86 347.7L470.24 349.42L471.61 352.24L472.66 353.67L473.7 354.34L474.75 354.01L475.79 351.91L476.84 350.47L478.26 349.42L479.97 348.56L480.54 349.9L482.3 350.57L484.39 351.62L485.43 352.67L487.19 353.05L489.28 353.39L491.37 354.44L490.89 357.4L490.04 359.6L489.18 361.75L487.85 363.9L486.24 365.67L485.15 366.86L485.62 368.06L485.38 369.49L484.62 370.73L483.25 371.88L482.39 372.98L482.15 374.41L481.87 376.08L481.01 377.75L480.16 379.43L479.31 380.86L476.5 380.91L473.04 380.57L469.52 380.19L466.06 379.9L462.55 379.62L459.79 379.14L457.7 376.37L456.28 374.03L455.95 373.55L455.23 371.45L456.66 369.35L458.37 365.81L459.6 362.56L460.46 360.31L461.5 357.88L461.17 357.5L459.08 356.11L456.99 354.72L455.23 353.67L454.19 352.57L453.86 350.14L453.86 347.32Z" fill="#d3e5a6"/><path d="M432.3 380.76L431.59 381.19L430.35 381.77L428.98 382.82L427.22 383.87L425.13 384.54L422.38 384.54L419.91 384.54L419.91 382.1L419.91 380.14L418.86 380.33L416.77 380.72L415.4 380.33L413.64 380L412.26 379.28L411.22 377.18L410.51 375.41L409.65 374.03L409.79 372.98L411.88 373.31L415.4 373.84L418.86 374.51L421.66 375.41L423.75 376.85L425.84 378.61L427.93 379.67L430.02 380.14L431.83 380.29L432.3 380.76Z" fill="#d2e4a4"/><path d="M449.3 392.66L447.78 392.09L444.98 391.42L442.22 390.37L439.56 389.32L437.48 388.27L436.05 386.55L435.39 384.78L435.01 382.68L434.91 381.19L432.3 380.76L431.83 380.29L433.49 380L435.62 379.28L437.33 378.33L439.09 376.42L440.23 375.32L441.56 374.98L442.56 375.7L443.7 376.42L445.12 377.04L446.16 377.9L446.54 380.57L446.54 384.06L448.63 384.44L450.34 384.78L451.05 386.16L450.82 388.27L450.49 390.18L449.77 391.85L449.3 392.66Z" fill="#7db27a"/><path d="M456.28 374.03L455.61 377.42L452.1 377.61L448.63 377.75L446.16 377.9L446.54 380.57L446.54 384.06L448.63 384.44L450.34 384.78L451.05 386.16L450.82 388.27L450.49 390.18L449.77 391.85L449.3 392.66L449.54 394.19L449.2 396.34L449.54 398.44L450.25 400.55L452.67 400.88L455.09 401.21L455.47 402.65L456.14 403.7L457.56 405.08L458.22 405.8L458.94 404.37L460.36 403.7L462.45 403.32L464.54 403.7L466.63 404.03L468.34 404.03L469.05 403.32L469.38 404.75L470.09 405.42L470.81 403.32L471.47 401.93L472.9 400.16L474.65 398.44L476.36 396.68L477.41 394.91L477.83 393.62L478.17 391.52L478.5 389.75L478.17 389.08L478.5 386.59L478.88 383.82L479.31 380.86L476.5 380.91L473.04 380.57L469.52 380.19L466.06 379.9L462.55 379.62L459.79 379.14L457.7 376.37L456.28 374.03Z" fill="#91bc84"/><path d="M485.15 366.86L486.19 367.82L486.85 368.77L487.14 371.02L487.42 373.26L488.28 374.94L489.66 375.51L490.51 377.18L490.8 379.43L491.08 381.15L492.13 382.77L491.41 383.82L491.08 385.21L491.41 387.31L491.08 390.13L490.37 390.46L488.99 390.7L486.9 390.8L484.81 391.18L482.72 390.8L480.59 390.46L478.5 389.75L478.17 389.08L478.5 386.59L478.88 383.82L479.31 380.86L480.16 379.43L481.01 377.75L481.87 376.08L482.15 374.41L482.39 372.98L483.25 371.88L484.62 370.73L485.38 369.49L485.62 368.06L485.15 366.86Z" fill="#dfeaaa"/><path d="M491.37 354.44L492.41 354.44L494.12 354.77L495.54 355.82L496.21 357.26L496.21 359.36L497.3 358.31L498.34 357.93L499.72 358.07L501.48 358.64L503.19 359.22L504.23 359.69L503.19 360.74L502.14 362.13L501.48 364.28L501.1 365.67L500.81 368.06L500.2 370.44L498.53 371.88L496.4 372.83L494.12 374.03L493.17 375.51L492.69 378.33L492.17 381.15L492.13 382.77L491.08 381.15L490.8 379.43L490.51 377.18L489.66 375.51L488.28 374.94L487.42 373.26L487.14 371.02L486.85 368.77L486.19 367.82L485.15 366.86L486.24 365.67L487.85 363.9L489.18 361.75L490.04 359.6L490.89 357.4L491.37 354.44Z" fill="#8fbf7f"/><path d="M504.23 359.69L505.28 359.84L505.99 360.03L505.28 361.46L505.66 363.56L505.99 365.67L506.32 368.49L506.7 371.26L507.84 372.98L507.56 374.74L507.08 375.94L506.13 377.13L504.47 378.09L502.86 379.04L501.15 379.43L499.48 379.71L498.77 380.24L498.3 381.67L497.25 382.53L496.21 383.34L495.12 383.82L493.83 383.11L492.79 381.91L492.13 382.77L492.17 381.15L492.69 378.33L493.17 375.51L494.12 374.03L496.4 372.83L498.53 371.88L500.2 370.44L500.81 368.06L501.1 365.67L501.48 364.28L502.14 362.13L503.19 360.74L504.23 359.69Z" fill="#96c485"/><path d="M505.99 360.03L507.37 359.84L509.46 359.69L511.59 360.41L512.97 361.46L514.54 362.56L516.2 363.99L517.05 365.95L515.63 367.67L514.54 369.06L514.06 370.4L513.63 371.97L513.44 373.22L513.63 373.98L511.73 373.84L510.64 373.55L509.5 373.55L508.41 373.26L507.84 372.98L506.7 371.26L506.32 368.49L505.99 365.67L505.66 363.56L505.28 361.46L505.99 360.03Z" fill="#f4d796"/><path d="M517.05 365.95L517.86 366.24L519.05 366.57L521.04 366.81L522.99 366.81L523.79 367.2L524.22 369.2L524.41 370.78L522.89 370.21L521.23 370.44L519.57 370.21L517.86 370.44L516.2 370.21L514.06 370.4L514.54 369.06L515.63 367.67L517.05 365.95Z" fill="#ece6a6"/><path d="M524.41 370.78L524.6 371.97L524.6 373.22L524.41 373.79L523.41 373.79L522.23 374.22L521.04 374.6L519.81 374.98L518.62 375.6L517.81 375.8L517.24 375.41L516.62 374.98L515.87 374.6L515.06 374.41L513.63 373.98L513.44 373.22L513.63 371.97L514.06 370.4L516.2 370.21L517.86 370.44L519.57 370.21L521.23 370.44L522.89 370.21L524.41 370.78Z" fill="#e3e8aa"/><path d="M524.41 373.79L524.6 375.6L524.41 376.8L524.22 377.8L523.6 377.61L521.8 377.8L519.81 378.42L518.24 378.81L516.62 379L515.63 379L515.06 378.61L513.87 377.99L512.64 377.18L511.45 376.8L510.26 376.99L509.08 377.61L507.51 378.42L506.13 377.13L507.08 375.94L507.56 374.74L507.84 372.98L508.41 373.26L509.5 373.55L510.64 373.55L511.73 373.84L513.63 373.98L515.06 374.41L515.87 374.6L516.62 374.98L517.24 375.41L517.81 375.8L518.62 375.6L519.81 374.98L521.04 374.6L522.23 374.22L523.41 373.79L524.41 373.79Z" fill="#efbb86"/><path d="M524.22 377.8L523.79 378.81L522.61 380L521.42 381.19L520.61 382.01L519.81 382.39L518.62 381.62L517.43 380.81L516.43 380.19L515.63 379.62L515.63 379L516.62 379L518.24 378.81L519.81 378.42L521.8 377.8L523.6 377.61L524.22 377.8Z" fill="#f0c48e"/><path d="M519.81 382.39L519.05 383.06L518.24 384.25L517.53 385.35L516.58 385.26L515.63 384.3L515.25 382.82L515.44 381.19L515.63 379.62L516.43 380.19L517.43 380.81L518.62 381.62L519.81 382.39Z" fill="#cfe2a0"/><path d="M517.53 385.35L517.05 386.26L516.62 387.45L515.87 388.65L514.87 389.89L513.87 390.66L513.06 391.28L512.45 392.18L512.21 394.91L512.21 398.16L512.21 400.83L511.97 403.75L511.5 406.23L510.5 405.94L509.31 405.71L508.55 404.99L508.32 403.75L509.08 402.27L509.55 400.55L508.08 399.59L506.61 399.06L505.13 398.59L504.18 397.63L502.24 396.87L500.29 396.39L498.82 395.91L498.34 394.91L496.87 394.91L495.4 395.39L493.45 395.91L491.75 396.39L491.98 393.95L491.75 390.99L491.08 390.13L491.41 387.31L491.08 385.21L491.41 383.82L492.13 382.77L492.79 381.91L493.83 383.11L495.12 383.82L496.21 383.34L497.25 382.53L498.3 381.67L498.77 380.24L499.48 379.71L501.15 379.43L502.86 379.04L504.47 378.09L506.13 377.13L507.51 378.42L509.08 377.61L510.26 376.99L511.45 376.8L512.64 377.18L513.87 377.99L515.06 378.61L515.63 379L515.63 379.62L515.44 381.19L515.25 382.82L515.63 384.3L516.58 385.26L517.53 385.35Z" fill="#cee1a1"/><path d="M491.08 390.13L490.37 390.46L488.99 390.7L486.9 390.8L484.81 391.18L482.72 390.8L480.59 390.46L478.5 389.75L478.17 391.52L477.83 393.62L477.41 394.91L476.36 396.68L474.65 398.44L472.9 400.16L471.47 401.93L470.81 403.32L470.09 405.42L472.18 407.19L474.27 408.62L476.79 411.06L477.12 410.1L477.83 408.67L479.21 407.62L479.78 407.66L481.73 407.19L483.67 406.95L485.62 406.71L487.09 406.23L487.85 405.23L487.57 403.75L487.85 402.27L487.57 400.83L488.09 400.07L488.33 398.83L488.56 397.63L489.28 396.87L490.04 395.91L491.75 396.39L491.98 393.95L491.75 390.99L491.08 390.13Z" fill="#d8e7a7"/><path d="M491.75 396.39L493.45 395.91L495.4 395.39L496.87 394.91L498.34 394.91L498.82 395.91L500.29 396.39L502.24 396.87L504.18 397.63L505.13 398.59L506.61 399.06L508.08 399.59L509.55 400.55L509.08 402.27L508.32 403.75L508.55 404.99L509.31 405.71L508.08 406.23L507.13 406.71L506.37 407.66L506.13 409.15L505.66 410.63L504.9 412.59L504.42 414.07L504.33 414.64L503.62 415.36L502.24 416.74L500.15 417.79L498.06 418.85L495.97 419.9L494.55 420.28L492.46 420.61L491.08 419.9L490.04 418.18L489.32 416.41L488.61 414.31L487.57 412.87L485.48 412.54L483.39 412.54L481.3 412.2L479.21 411.82L476.79 411.06L477.12 410.1L477.83 408.67L479.21 407.62L479.78 407.66L481.73 407.19L483.67 406.95L485.62 406.71L487.09 406.23L487.85 405.23L487.57 403.75L487.85 402.27L487.57 400.83L488.09 400.07L488.33 398.83L488.56 397.63L489.28 396.87L490.04 395.91L491.75 396.39Z" fill="#dc8e6a"/><path d="M509.31 405.71L510.5 405.94L511.5 406.23L510.88 407.47L510.26 409.38L509.55 411.49L508.51 412.87L507.46 414.98L506.75 416.41L505.7 415.69L504.33 414.64L504.42 414.07L504.9 412.59L505.66 410.63L506.13 409.15L506.37 407.66L507.13 406.71L508.08 406.23L509.31 405.71Z" fill="#dc7256"/><path d="M504.33 414.64L505.7 415.69L506.75 416.41L506.75 417.46L506.04 418.51L504.99 419.23L504.33 420.61L502.9 420.28L501.53 420.61L499.44 420.95L497.35 421.33L495.97 421.66L495.97 419.9L498.06 418.85L500.15 417.79L502.24 416.74L503.62 415.36L504.33 414.64Z" fill="#eab184"/><path d="M476.79 411.06L479.21 411.82L481.3 412.2L483.39 412.54L485.48 412.54L487.57 412.87L488.61 414.31L489.32 416.41L490.04 418.18L491.08 419.9L492.46 420.61L494.55 420.28L495.97 419.9L495.97 421.66L494.55 422L493.17 423.05L491.08 424.1L488.99 424.82L487.23 425.87L485.86 426.92L485.1 427.68L484.05 427.11L482.3 426.39L481.96 425.01L481.25 423.58L480.59 422.19L477.79 421.14L474.98 420.42L472.18 420.09L472.9 418.75L474.27 416.65L475.7 413.88L476.79 411.06Z" fill="#e39c75"/><path d="M470.09 405.42L472.18 407.19L474.27 408.62L476.79 411.06L475.7 413.88L474.27 416.65L472.9 418.75L472.18 420.09L470.09 420.42L468.72 421.47L467.34 423.58L466.72 423.72L465.25 423.91L464.21 423.58L463.83 422.19L463.49 420.14L461.74 419.13L459.13 418.46L457.18 417.75L456.85 415.26L456.85 413.16L456.52 411.06L456.85 409.67L457.18 407.52L458.22 405.8L458.94 404.37L460.36 403.7L462.45 403.32L464.54 403.7L466.63 404.03L468.34 404.03L469.05 403.32L469.38 404.75L470.09 405.42Z" fill="#e9ebb0"/><path d="M472.18 420.09L474.98 420.42L477.79 421.14L480.59 422.19L481.25 423.58L481.96 425.01L482.3 426.39L484.05 427.11L485.1 427.68L484.77 428.74L484.2 429.88L481.96 430.26L479.88 430.6L477.79 430.93L476.41 431.65L474.32 431.32L472.23 430.93L469.43 431.32L469.05 430.26L467.34 429.21L466.63 427.78L466.96 425.68L466.72 423.72L467.34 423.58L468.72 421.47L470.09 420.42L472.18 420.09Z" fill="#da8762"/><path d="M469.43 431.32L472.23 430.93L474.32 431.32L476.41 431.65L477.79 430.93L479.88 430.6L481.96 430.26L484.2 429.88L484.39 431.98L484.77 434.09L484.05 435.52L483.34 437.29L481.96 438.34L480.82 439.73L479.88 438.34L478.5 436.91L477.07 435.52L474.98 434.47L472.23 434.09L469.76 433.75L469.29 432.7L469.43 431.32Z" fill="#de9670"/><path d="M469.76 433.75L472.23 434.09L474.98 434.47L477.07 435.52L478.5 436.91L479.88 438.34L480.82 439.73L480.11 441.02L479.45 442.69L478.64 443.98L477.36 444.74L476.12 446.46L474.84 447.75L473.61 448.99L472.99 450.71L472.37 451.96L471.52 452.82L470.47 453.63L469.86 453.2L470.28 452.15L470.9 451.1L469.86 449.85L468.57 448.61L466.91 447.32L465.25 446.46L463.78 445.41L462.31 445.22L460.65 443.74L459.36 442.93L457.7 443.12L458.98 441.88L460.22 440.59L461.5 438.91L462.73 437.62L463.78 436.38L465.25 435.52L466.96 434.47L468.01 434.09L469.76 433.75Z" fill="#e29c75"/><path d="M484.53 398.16L488.33 398.16L488.33 400.55L484.53 400.55Z" fill="#d9a274"/><path d="M473.75 448.13L475.17 446.03L476.84 444.31L478.31 443.4L478.17 444.69L476.55 446.7L474.75 448.37Z" fill="#ffffff"/><path d="M470.95 451L471.85 449.71L472.14 450.33L471.66 451.43Z" fill="#ffffff"/></g>
<g stroke="#4d4d4d" stroke-width="0.35"><text x="381.15" y="356.7" font-size="12.2" fill="#4d4d4d" font-family="Liberation Sans, Arial, sans-serif">0</text><text transform="translate(389.52 356.7) scale(0.72 1.17)" font-size="12.2" fill="#4d4d4d" font-family="Liberation Sans, Arial, sans-serif">□</text></g>
<g stroke="#4d4d4d" stroke-width="0.35"><text x="366.23" y="387.5" font-size="12.2" fill="#4d4d4d" font-family="Liberation Sans, Arial, sans-serif">10</text><text transform="translate(381.38 387.5) scale(0.72 1.17)" font-size="12.2" fill="#4d4d4d" font-family="Liberation Sans, Arial, sans-serif">□</text><text x="387.36" y="387.5" font-size="12.2" fill="#4d4d4d" font-family="Liberation Sans, Arial, sans-serif">S</text></g>
<g stroke="#4d4d4d" stroke-width="0.35"><text x="366.23" y="417.9" font-size="12.2" fill="#4d4d4d" font-family="Liberation Sans, Arial, sans-serif">20</text><text transform="translate(381.38 417.9) scale(0.72 1.17)" font-size="12.2" fill="#4d4d4d" font-family="Liberation Sans, Arial, sans-serif">□</text><text x="387.36" y="417.9" font-size="12.2" fill="#4d4d4d" font-family="Liberation Sans, Arial, sans-serif">S</text></g>
<g stroke="#4d4d4d" stroke-width="0.35"><text x="366.23" y="447.8" font-size="12.2" fill="#4d4d4d" font-family="Liberation Sans, Arial, sans-serif">30</text><text transform="translate(381.38 447.8) scale(0.72 1.17)" font-size="12.2" fill="#4d4d4d" font-family="Liberation Sans, Arial, sans-serif">□</text><text x="387.36" y="447.8" font-size="12.2" fill="#4d4d4d" font-family="Liberation Sans, Arial, sans-serif">S</text></g>
<g stroke="#4d4d4d" stroke-width="0.35"><text x="404.28" y="476.6" font-size="12.2" fill="#4d4d4d" font-family="Liberation Sans, Arial, sans-serif">70</text><text transform="translate(419.43 476.6) scale(0.72 1.17)" font-size="12.2" fill="#4d4d4d" font-family="Liberation Sans, Arial, sans-serif">□</text><text x="425.41" y="476.6" font-size="12.2" fill="#4d4d4d" font-family="Liberation Sans, Arial, sans-serif">W</text></g>
<g stroke="#4d4d4d" stroke-width="0.35"><text x="434.68" y="476.6" font-size="12.2" fill="#4d4d4d" font-family="Liberation Sans, Arial, sans-serif">60</text><text transform="translate(449.83 476.6) scale(0.72 1.17)" font-size="12.2" fill="#4d4d4d" font-family="Liberation Sans, Arial, sans-serif">□</text><text x="455.81" y="476.6" font-size="12.2" fill="#4d4d4d" font-family="Liberation Sans, Arial, sans-serif">W</text></g>
<g stroke="#4d4d4d" stroke-width="0.35"><text x="463.18" y="476.6" font-size="12.2" fill="#4d4d4d" font-family="Liberation Sans, Arial, sans-serif">50</text><text transform="translate(478.33 476.6) scale(0.72 1.17)" font-size="12.2" fill="#4d4d4d" font-family="Liberation Sans, Arial, sans-serif">□</text><text x="484.31" y="476.6" font-size="12.2" fill="#4d4d4d" font-family="Liberation Sans, Arial, sans-serif">W</text></g>
<g stroke="#4d4d4d" stroke-width="0.35"><text x="493.18" y="476.6" font-size="12.2" fill="#4d4d4d" font-family="Liberation Sans, Arial, sans-serif">40</text><text transform="translate(508.33 476.6) scale(0.72 1.17)" font-size="12.2" fill="#4d4d4d" font-family="Liberation Sans, Arial, sans-serif">□</text><text x="514.31" y="476.6" font-size="12.2" fill="#4d4d4d" font-family="Liberation Sans, Arial, sans-serif">W</text></g>
<g stroke="#4d4d4d" stroke-width="0.35"><text x="521.98" y="476.6" font-size="12.2" fill="#4d4d4d" font-family="Liberation Sans, Arial, sans-serif">30</text><text transform="translate(537.13 476.6) scale(0.72 1.17)" font-size="12.2" fill="#4d4d4d" font-family="Liberation Sans, Arial, sans-serif">□</text><text x="543.11" y="476.6" font-size="12.2" fill="#4d4d4d" font-family="Liberation Sans, Arial, sans-serif">W</text></g>
<text x="206.3" y="337.3" font-size="15" fill="#111" stroke="#111" stroke-width="0.35" font-family="Liberation Sans, Arial, sans-serif">% primary education</text>
<rect x="205.3" y="346" width="23.9" height="118.8" fill="url(#g2)"/>
<line x1="205.3" y1="360.9" x2="210" y2="360.9" stroke="#fff" stroke-width="1"/>
<line x1="224.5" y1="360.9" x2="229.2" y2="360.9" stroke="#fff" stroke-width="1"/>
<text x="236.0" y="366.2" font-size="12.2" fill="#2a2a2a" stroke="#2a2a2a" stroke-width="0.4" font-family="Liberation Sans, Arial, sans-serif">80</text>
<line x1="205.3" y1="398.1" x2="210" y2="398.1" stroke="#fff" stroke-width="1"/>
<line x1="224.5" y1="398.1" x2="229.2" y2="398.1" stroke="#fff" stroke-width="1"/>
<text x="236.0" y="403.4" font-size="12.2" fill="#2a2a2a" stroke="#2a2a2a" stroke-width="0.4" font-family="Liberation Sans, Arial, sans-serif">70</text>
<line x1="205.3" y1="435.3" x2="210" y2="435.3" stroke="#fff" stroke-width="1"/>
<line x1="224.5" y1="435.3" x2="229.2" y2="435.3" stroke="#fff" stroke-width="1"/>
<text x="236.0" y="440.6" font-size="12.2" fill="#2a2a2a" stroke="#2a2a2a" stroke-width="0.4" font-family="Liberation Sans, Arial, sans-serif">60</text>
<text x="571.8" y="337.3" font-size="15" fill="#111" stroke="#111" stroke-width="0.35" font-family="Liberation Sans, Arial, sans-serif">% infant mortality</text>
<rect x="570.9" y="345.6" width="24.2" height="118.3" fill="url(#g3)"/>
<line x1="570.9" y1="348.4" x2="575.7" y2="348.4" stroke="#fff" stroke-width="1"/>
<line x1="590.3" y1="348.4" x2="595.1" y2="348.4" stroke="#fff" stroke-width="1"/>
<text x="602.3" y="353.6" font-size="12.2" fill="#2a2a2a" stroke="#2a2a2a" stroke-width="0.4" font-family="Liberation Sans, Arial, sans-serif">30</text>
<line x1="570.9" y1="377.4" x2="575.7" y2="377.4" stroke="#fff" stroke-width="1"/>
<line x1="590.3" y1="377.4" x2="595.1" y2="377.4" stroke="#fff" stroke-width="1"/>
<text x="602.3" y="382.6" font-size="12.2" fill="#2a2a2a" stroke="#2a2a2a" stroke-width="0.4" font-family="Liberation Sans, Arial, sans-serif">25</text>
<line x1="570.9" y1="406.4" x2="575.7" y2="406.4" stroke="#fff" stroke-width="1"/>
<line x1="590.3" y1="406.4" x2="595.1" y2="406.4" stroke="#fff" stroke-width="1"/>
<text x="602.3" y="411.6" font-size="12.2" fill="#2a2a2a" stroke="#2a2a2a" stroke-width="0.4" font-family="Liberation Sans, Arial, sans-serif">20</text>
<line x1="570.9" y1="435.4" x2="575.7" y2="435.4" stroke="#fff" stroke-width="1"/>
<line x1="590.3" y1="435.4" x2="595.1" y2="435.4" stroke="#fff" stroke-width="1"/>
<text x="602.3" y="440.6" font-size="12.2" fill="#2a2a2a" stroke="#2a2a2a" stroke-width="0.4" font-family="Liberation Sans, Arial, sans-serif">15</text>
<line x1="570.9" y1="464.4" x2="575.7" y2="464.4" stroke="#fff" stroke-width="1"/>
<line x1="590.3" y1="464.4" x2="595.1" y2="464.4" stroke="#fff" stroke-width="1"/>
<text x="602.3" y="469.6" font-size="12.2" fill="#2a2a2a" stroke="#2a2a2a" stroke-width="0.4" font-family="Liberation Sans, Arial, sans-serif">10</text>
<circle cx="444.2" cy="70.6" r="0.7" fill="#555"/>
<circle cx="464" cy="177.3" r="0.7" fill="#555"/>
<circle cx="145.1" cy="137.6" r="0.9" fill="#555"/>
<circle cx="165.1" cy="363.2" r="0.6" fill="#555"/>
<circle cx="176.8" cy="412.9" r="0.6" fill="#555"/>
<circle cx="530.9" cy="363.2" r="0.6" fill="#555"/>
<circle cx="542.6" cy="412.9" r="0.6" fill="#555"/>
</g>
</svg>
</body></html>
